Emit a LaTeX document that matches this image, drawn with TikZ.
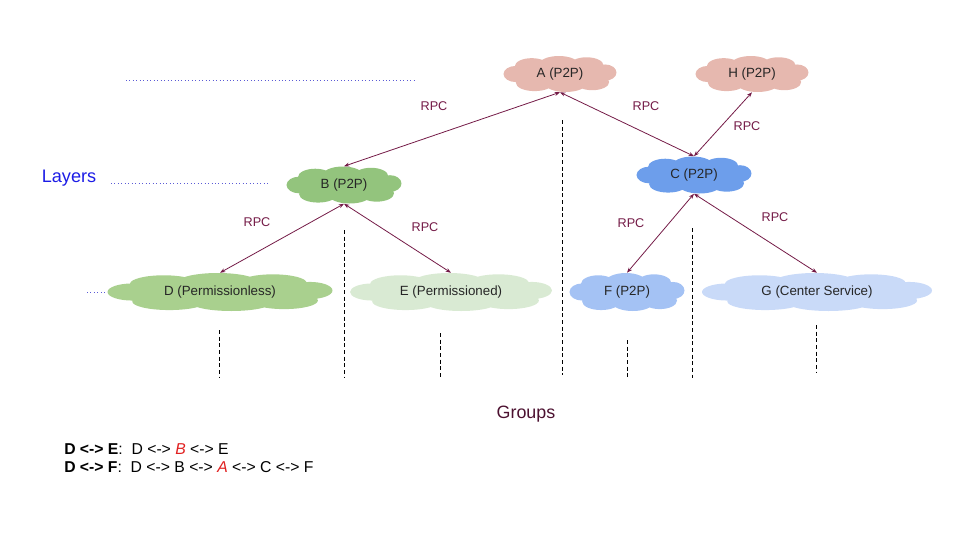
\documentclass[tikz,border=0pt]{standalone}
\usepackage{fontspec}
\setmainfont{Liberation Sans}
\usetikzlibrary{arrows.meta}
\definecolor{pinkc}{HTML}{E6B8AF}
\definecolor{greenB}{HTML}{93C47D}
\definecolor{greenD}{HTML}{A9D08E}
\definecolor{greenE}{HTML}{D9EAD3}
\definecolor{blueC}{HTML}{6D9EEB}
\definecolor{blueF}{HTML}{A4C2F4}
\definecolor{blueG}{HTML}{C9DAF8}
\definecolor{edgec}{HTML}{741B47}
\definecolor{rpcc}{HTML}{741B47}
\definecolor{groupc}{HTML}{4C1130}
\definecolor{layerc}{HTML}{1C1CE6}
\definecolor{dotc}{HTML}{5B5BD6}
\definecolor{redt}{HTML}{E02020}
\tikzset{
  cloudtext/.style={rectangle, draw=none, inner sep=0pt, text=black!85, font=\fontsize{10}{12}\selectfont},
  link/.style={edgec, line width=0.6pt, {Stealth[length=4pt,width=3pt]}-{Stealth[length=4pt,width=3pt]}},
  rpc/.style={text=rpcc, font=\fontsize{9.5}{11}\selectfont},
  grp/.style={black, line width=0.6pt, dash pattern=on 3pt off 2pt},
  lay/.style={dotc, dotted, line width=0.6pt},
  note/.style={anchor=west, inner sep=0pt, font=\fontsize{11.8}{14}\selectfont}
}
% #1 name, #2 cx, #3 cy, #4 width, #5 height, #6 colour, #7 text
\newcommand{\mycloud}[7]{%
  \begin{scope}[shift={(#2,#3)}, xscale=#4/2, yscale=-#5/2]
    \fill[#6] (0,0) ellipse[x radius=0.8, y radius=0.6]
      (-0.78,0.0) ellipse[x radius=0.22, y radius=0.45]
      (-0.5,0.43) ellipse[x radius=0.3, y radius=0.45]
      (-0.02,0.5) ellipse[x radius=0.36, y radius=0.5]
      (0.47,0.48) ellipse[x radius=0.3, y radius=0.45]
      (0.8,0.08) ellipse[x radius=0.2, y radius=0.45]
      (-0.45,-0.5) ellipse[x radius=0.33, y radius=0.45]
      (0.1,-0.55) ellipse[x radius=0.36, y radius=0.45]
      (0.57,-0.45) ellipse[x radius=0.3, y radius=0.45];
  \end{scope}
  \node[cloudtext, minimum width=#4*0.75pt, minimum height=#5*0.75pt] (#1) at (#2,#3) {#7};
}
\begin{document}
\begin{tikzpicture}[x=0.75pt,y=-0.75pt]
\useasboundingbox (0,0) rectangle (961,536);
% layers
\draw[lay] (126,80) -- (415,80);
\draw[lay] (111,183) -- (268,183);
\draw[lay] (87,292) -- (107,292);
\node[text=layerc, font=\fontsize{13.6}{16}\selectfont] (layers) at (69,178) {Layers};
% group separators
\draw[grp] (562,120) -- (562,375);
\draw[grp] (344,230) -- (344,378);
\draw[grp] (219,330) -- (219,378);
\draw[grp] (440,333) -- (440,378);
\draw[grp] (627,340) -- (627,378);
\draw[grp] (692,228) -- (692,378);
\draw[grp] (816,325) -- (816,373);
% clouds
\mycloud{A}{560}{74}{113}{36}{pinkc}{A (P2P)}
\mycloud{H}{752}{74}{113}{36}{pinkc}{H (P2P)}
\mycloud{C}{694}{175}{115}{37}{blueC}{C (P2P)}
\mycloud{B}{344}{185}{115}{37}{greenB}{B (P2P)}
\mycloud{D}{220}{292}{225}{38}{greenD}{D (Permissionless)}
\mycloud{E}{451}{292}{202}{38}{greenE}{E (Permissioned)}
\mycloud{F}{627}{292}{115}{38}{blueF}{F (P2P)}
\mycloud{G}{817}{292}{230}{38}{blueG}{G (Center Service)}
% links
\draw[link] (A.south) -- (B.north);
\draw[link] (A.south) -- (C.north);
\draw[link] (H.south) -- (C.north);
\draw[link] (B.south) -- (D.north);
\draw[link] (B.south) -- (E.north);
\draw[link] (C.south) -- (F.north);
\draw[link] (C.south) -- (G.north);
% labels
\node[rpc] (r1) at (434,106) {RPC};
\node[rpc] (r2) at (646,106) {RPC};
\node[rpc] (r3) at (747,126) {RPC};
\node[rpc] (r4) at (257,222) {RPC};
\node[rpc] (r5) at (425,227) {RPC};
\node[rpc] (r6) at (631,223) {RPC};
\node[rpc] (r7) at (775,217) {RPC};
\node[text=groupc, font=\fontsize{13.4}{16}\selectfont] (groups) at (526,414) {Groups};
\node[note] (n1) at (64,449) {\textbf{D <-> E}:\ \ D <-> \textcolor{redt}{\textit{B}} <-> E};
\node[note] (n2) at (64,467) {\textbf{D <-> F}:\ \ D <-> B <-> \textcolor{redt}{\textit{A}} <-> C <-> F};
\end{tikzpicture}
\end{document}
